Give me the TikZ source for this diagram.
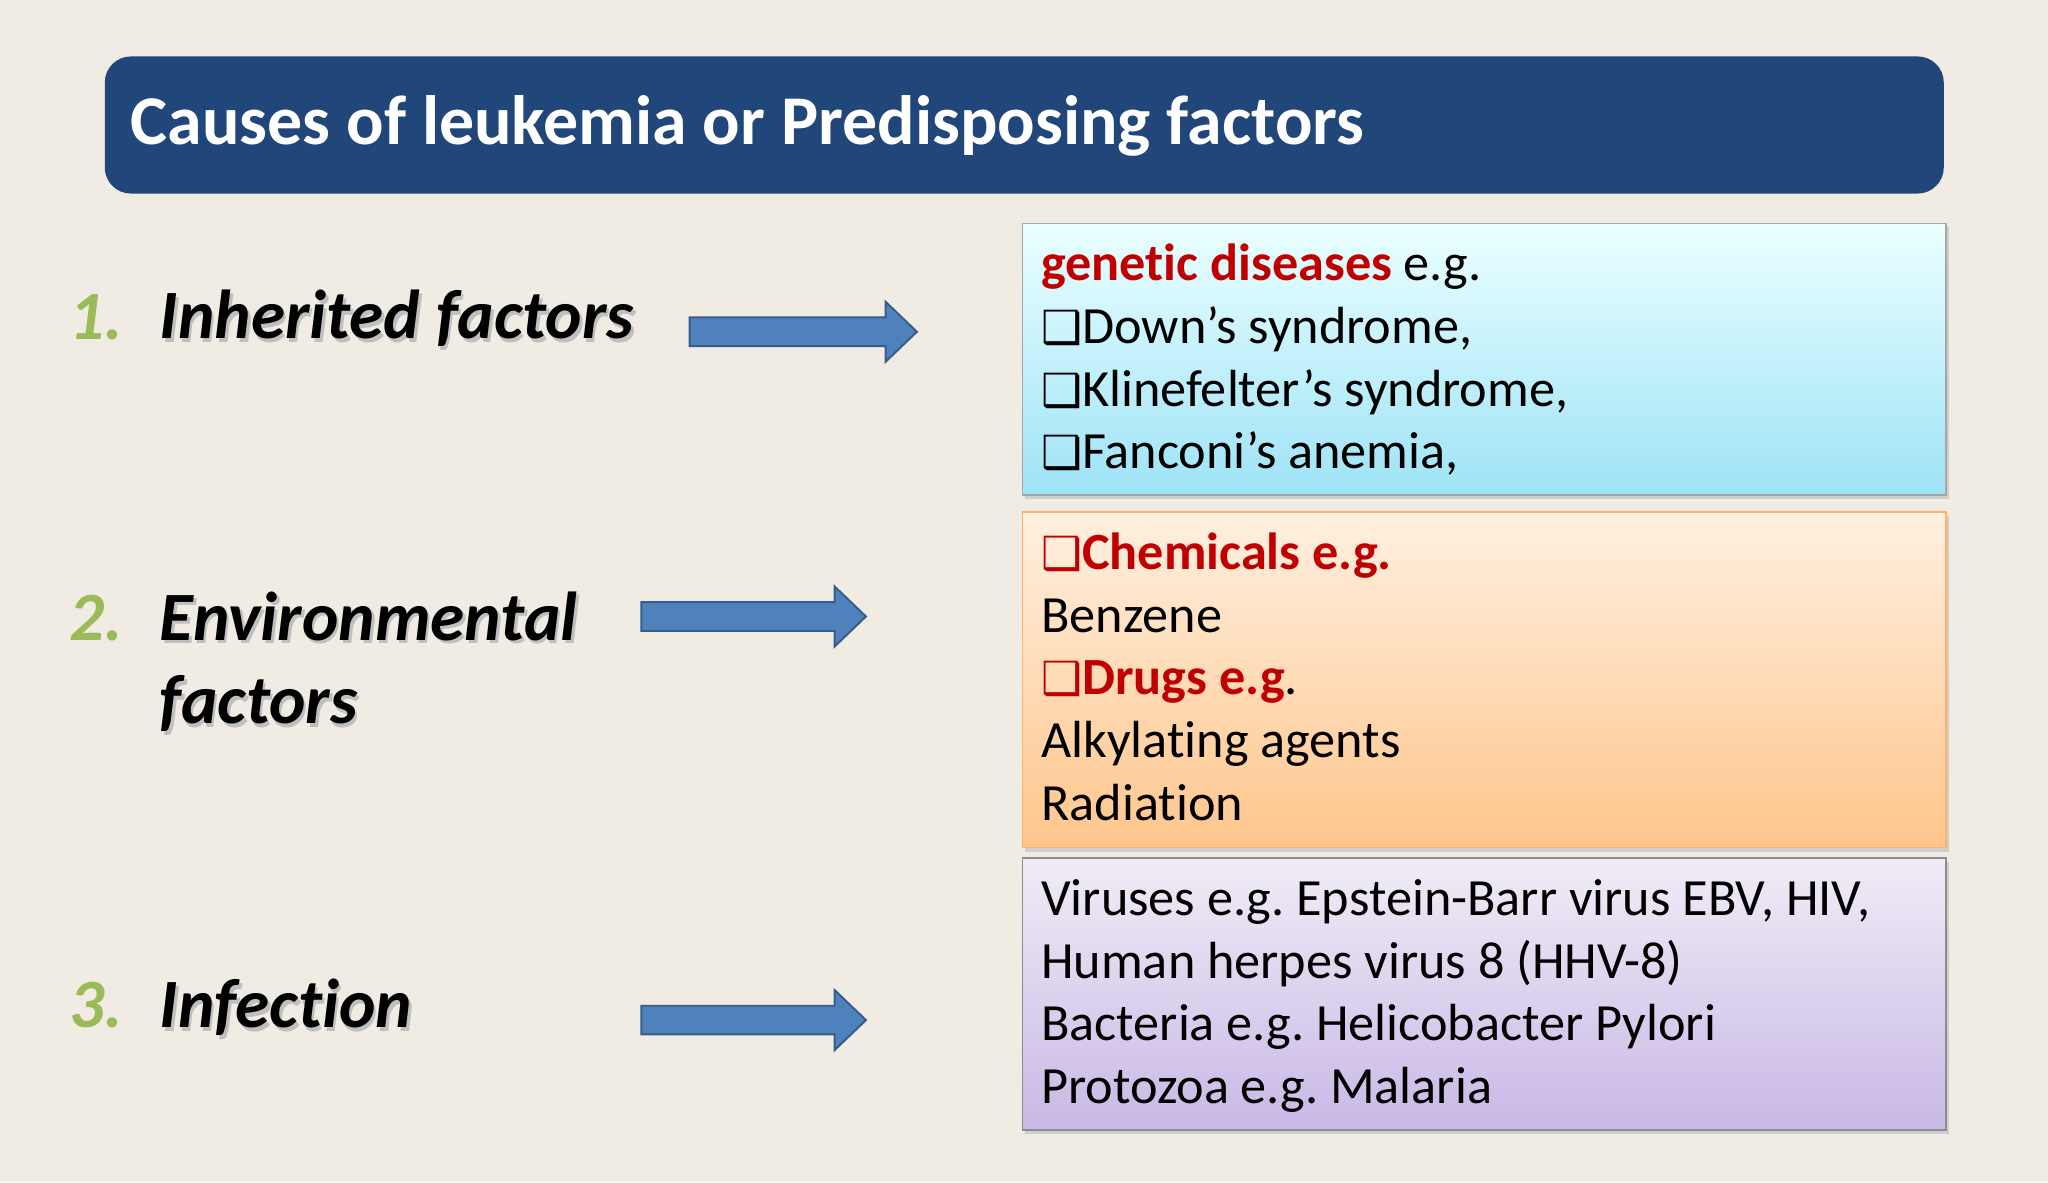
\documentclass[tikz,border=0pt]{standalone}
\usepackage{fontspec}
\setmainfont[Ligatures={ResetAll,NoCommon}]{Carlito}
\newfontfamily\sym{DejaVu Sans}
\usetikzlibrary{shapes.arrows,shadows}
\definecolor{bg}{HTML}{F0ECE4}
\definecolor{titleblue}{HTML}{21477A}
\definecolor{numgreen}{HTML}{9BBB59}
\definecolor{arrfill}{HTML}{4F81BD}
\definecolor{arrline}{HTML}{385D8A}
\definecolor{darkred}{HTML}{C00000}
\tikzset{
 body/.style={anchor=base west,inner sep=0,font=\fontsize{40}{46}\selectfont},
 lefttxt/.style={anchor=base west,inner sep=0,font=\fontsize{53}{60}\selectfont\bfseries\itshape},
 shadowtxt/.style={lefttxt,text=black!25},
 numtxt/.style={lefttxt,text=numgreen},
 causebox/.style={draw=#1,line width=1.2pt,drop shadow={shadow xshift=2pt,shadow yshift=-3pt,fill=black!30}},
 barr/.style={fill=arrfill,draw=arrline,line width=1.5pt}
}
\newcommand{\cbx}{{\sym\fontsize{35}{40}\selectfont ❑}}
\newcommand{\ap}{'}
\newcommand{\barrow}[4]{% x1 x2 yc name
 \path[barr] (#1,#3-11) -- (#2-24,#3-11) -- (#2-24,#3-23) -- (#2,#3) -- (#2-24,#3+23) -- (#2-24,#3+11) -- (#1,#3+11) -- cycle;
 \coordinate (#4) at (#2,#3);}
\begin{document}
\frenchspacing
\begin{tikzpicture}[x=1pt,y=-1pt]
\fill[bg] (0,0) rectangle (1568,905);
\useasboundingbox (0,0) rectangle (1568,905);
\node[fill=titleblue,rounded corners=20pt,minimum width=1408pt,minimum height=105pt,anchor=north west,inner sep=0] (title) at (80,43) {};
\node[anchor=base west,inner sep=0,text=white,font=\fontsize{53.5}{60}\selectfont\bfseries] (titletxt) at (100,111) {Causes of leukemia or Predisposing factors};
% left items
\node[numtxt] (n1) at (53,260) {1.};
\node[shadowtxt] at (124,262) {Inherited factors};
\node[lefttxt] (l1) at (122,259) {Inherited factors};
\node[numtxt] (n2) at (53,490) {2.};
\node[shadowtxt] at (124,493) {Environmental};
\node[lefttxt] (l2) at (122,490) {Environmental};
\node[shadowtxt] at (124,557) {factors};
\node[lefttxt] (l2b) at (122,554) {factors};
\node[numtxt] (n3) at (53,787) {3.};
\node[shadowtxt] at (124,790) {Infection};
\node[lefttxt] (l3) at (122,787) {Infection};
% boxes
\path[causebox={black!35},top color=cyan!8,bottom color={rgb,255:red,158;green,227;blue,247}] (783,171) rectangle (1490,379);
\node[inner sep=0] (b1) at (783,275) {};
\path[causebox={orange!60},top color=orange!12,bottom color=orange!45] (783,392) rectangle (1490,649);
\node[inner sep=0] (b2) at (783,472) {};
\path[causebox={black!45},top color={rgb,255:red,240;green,236;blue,246},bottom color={rgb,255:red,201;green,184;blue,230}] (783,657) rectangle (1490,865);
\node[inner sep=0] (b3) at (783,781) {};
% arrows
\barrow{528}{702}{254}{a1}
\barrow{491}{663}{472}{a2}
\barrow{491}{663}{781}{a3}
% box texts
\node[body] (t11) at (797,215) {\textcolor{darkred}{\bfseries genetic diseases} e.g.};
\node[body] (t12) at (797,263) {\cbx Down\ap s syndrome,};
\node[body] (t13) at (797,311) {\cbx Klinefelter\ap s syndrome,};
\node[body] (t14) at (797,359) {\cbx Fanconi\ap s anemia,};
\node[body,text=darkred] (t21) at (797,436) {{\sym\fontsize{35}{40}\selectfont ❑}\bfseries Chemicals e.g.};
\node[body] (t22) at (797,484) {Benzene};
\node[body] (t23) at (797,532) {\textcolor{darkred}{{\sym\fontsize{35}{40}\selectfont ❑}\bfseries Drugs e.g}.};
\node[body] (t24) at (797,580) {Alkylating agents};
\node[body] (t25) at (797,628) {Radiation};
\node[body] (t31) at (797,701) {Viruses e.g. Epstein-Barr virus EBV, HIV,};
\node[body] (t32) at (797,749) {Human herpes virus 8 (HHV-8)};
\node[body] (t33) at (797,797) {Bacteria e.g. Helicobacter Pylori};
\node[body] (t34) at (797,845) {Protozoa e.g. Malaria};
\end{tikzpicture}
\end{document}
